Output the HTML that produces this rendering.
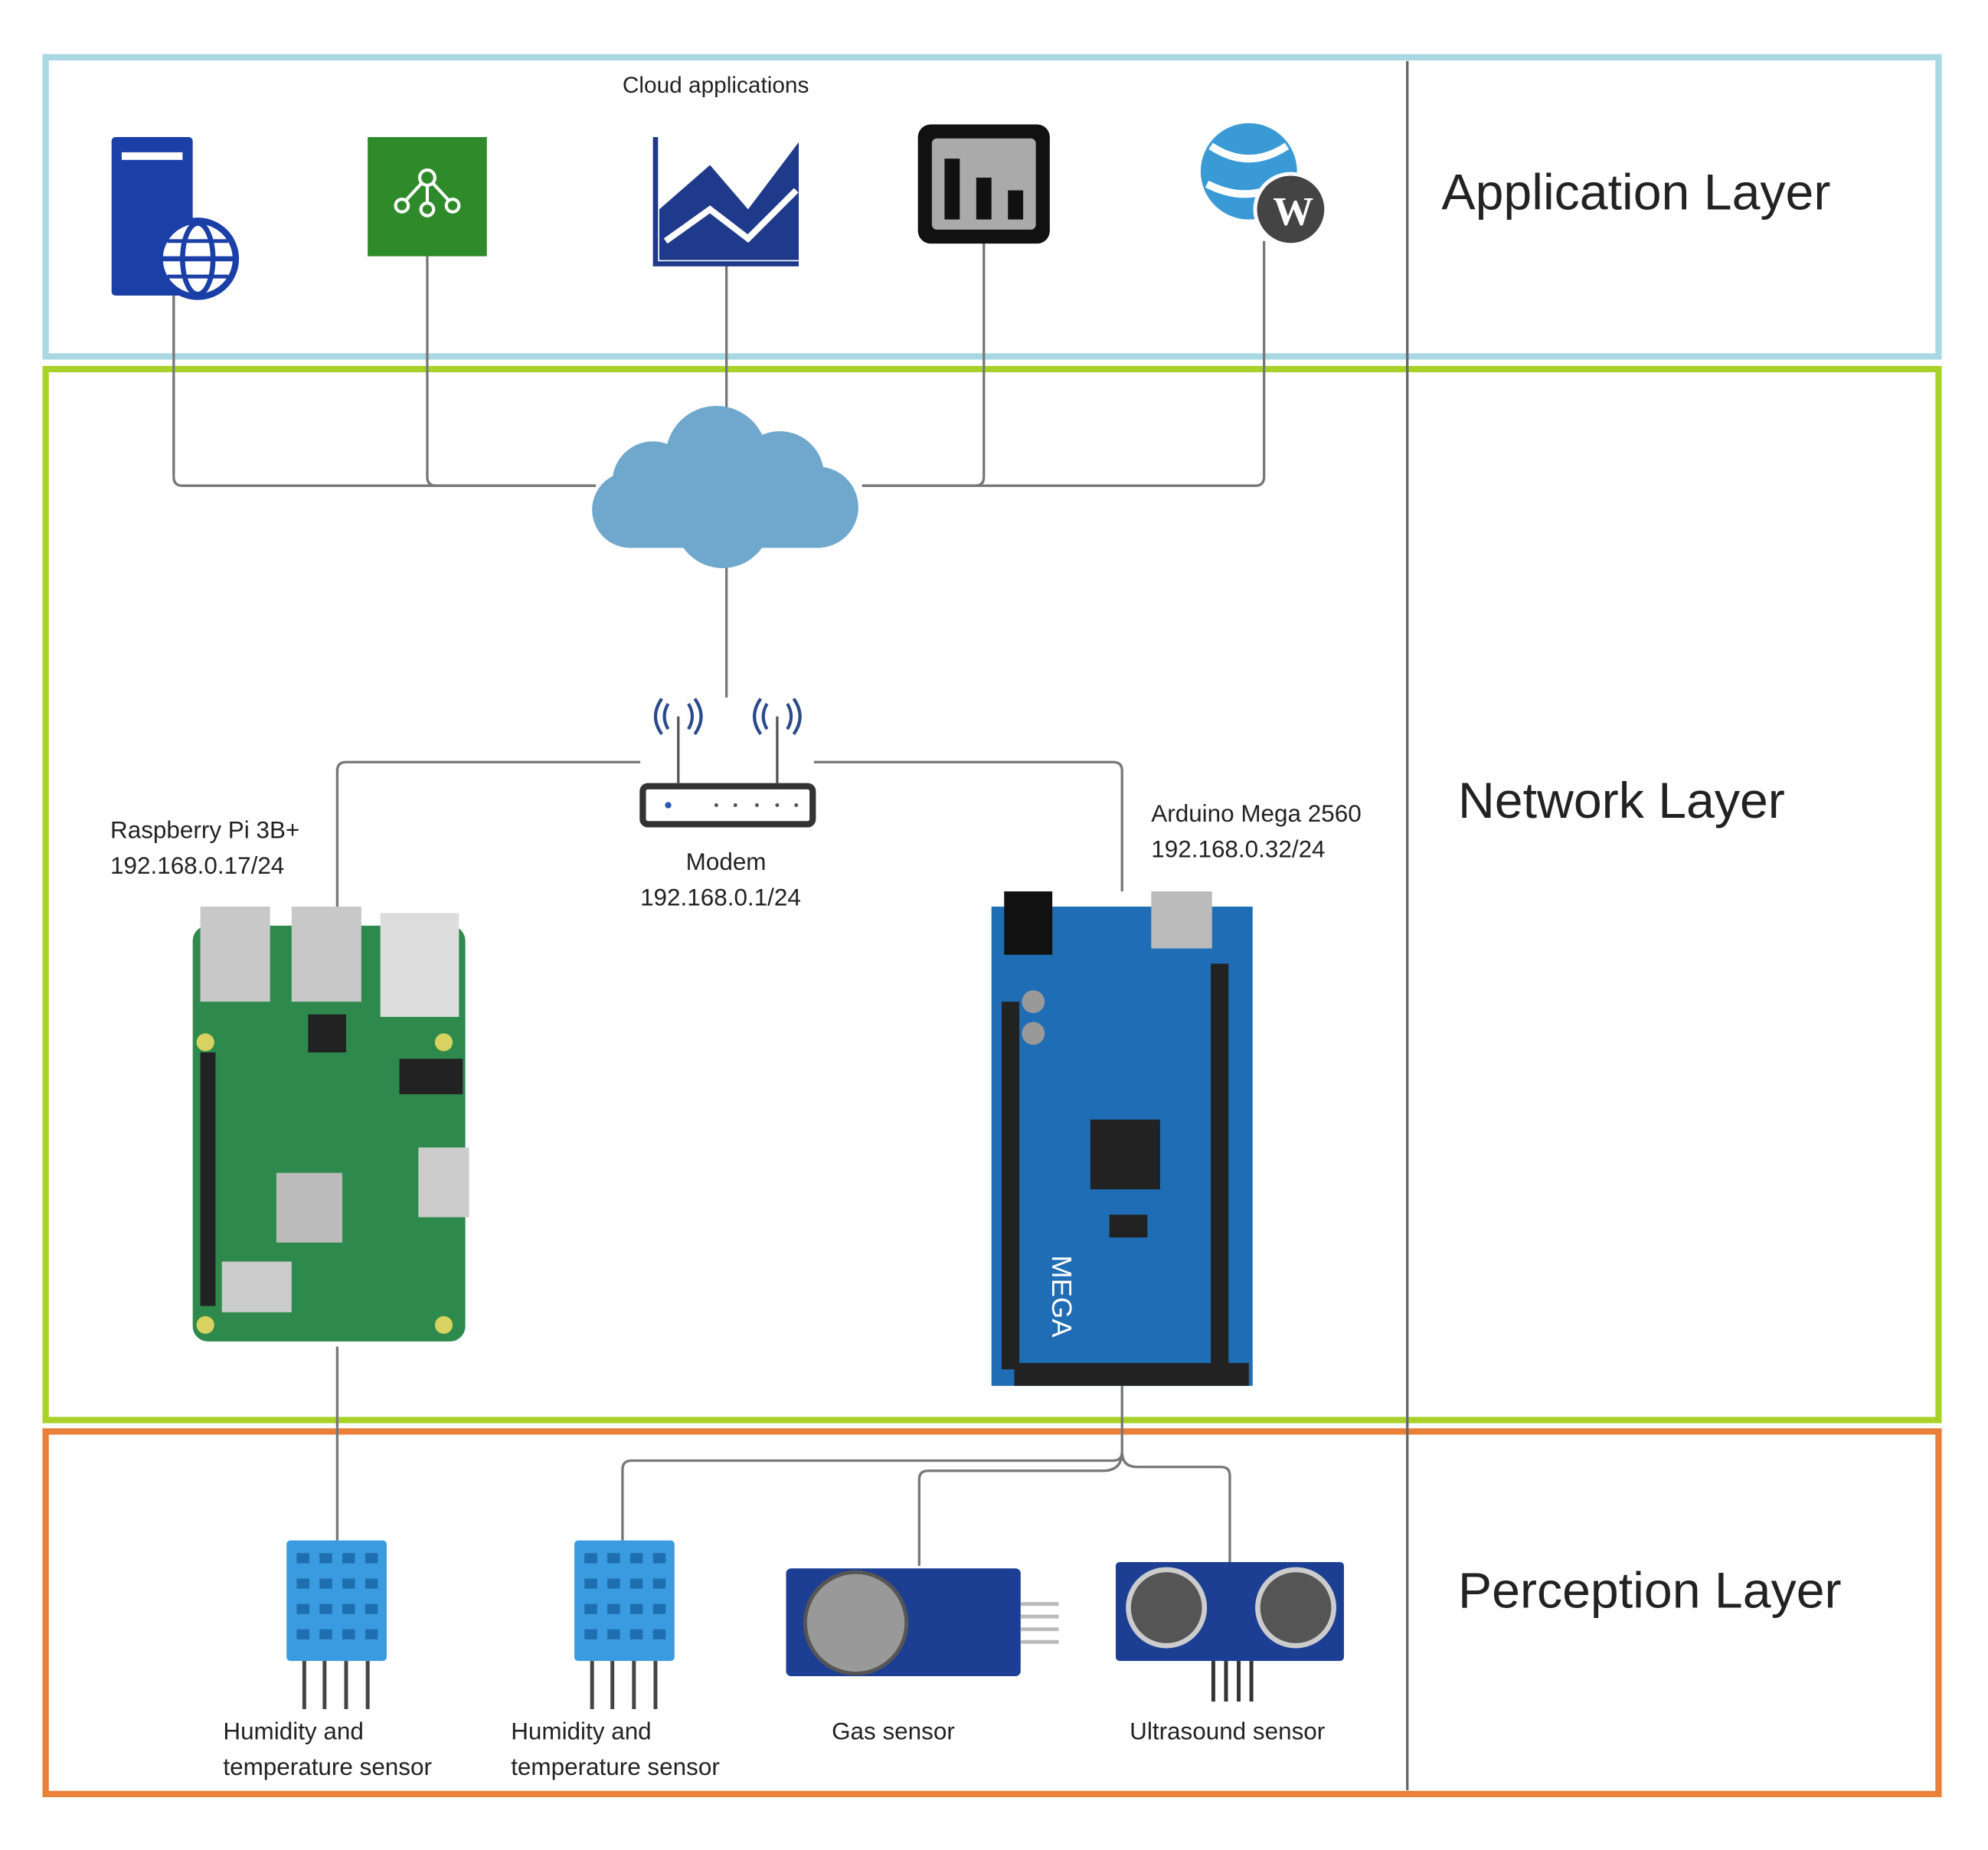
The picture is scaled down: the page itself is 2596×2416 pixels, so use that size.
<!DOCTYPE html>
<html><head><meta charset="utf-8"><style>
html,body{margin:0;padding:0;background:#fff}
svg{display:block}
text{font-family:"Liberation Sans",sans-serif;fill:#222}
</style></head><body>
<svg width="2596" height="2416" viewBox="0 0 1568 1459" xmlns="http://www.w3.org/2000/svg">
<rect width="1568" height="1459" fill="#fff"/>
<!-- layer boxes -->
<rect x="36" y="45" width="1493" height="236" fill="none" stroke="#a8d8e2" stroke-width="5"/>
<rect x="36" y="291" width="1493" height="829" fill="none" stroke="#a8d22a" stroke-width="5"/>
<rect x="36" y="1129" width="1493" height="286" fill="none" stroke="#e8803a" stroke-width="5"/>
<line x1="1110" y1="48" x2="1110" y2="1412" stroke="#666" stroke-width="2"/>
<text x="1137" y="165" font-size="40">Application Layer</text>
<text x="1150" y="645" font-size="40">Network Layer</text>
<text x="1150" y="1268" font-size="40">Perception Layer</text>
<text x="491" y="73" font-size="18">Cloud applications</text>

<!-- connectors -->
<g fill="none" stroke="#777" stroke-width="2">
<path d="M137 230 V376 q0 7 7 7 H470"/>
<path d="M337 200 V376 q0 7 7 7 H470"/>
<path d="M573 208 V322"/>
<path d="M776 190 V376 q0 7 -7 7 H680"/>
<path d="M997 190 V376 q0 7 -7 7 H680"/>
<path d="M573 447 V550"/>
<path d="M505 601 H273 q-7 0 -7 7 V715"/>
<path d="M642 601 H878 q7 0 7 7 V703"/>
<path d="M266 1062 V1215"/>
<path d="M885 1093 V1145 q0 7 -7 7 H498 q-7 0 -7 7 V1215"/>
<path d="M885 1145 q0 15 -15 15 H732 q-7 0 -7 7 V1235"/>
<path d="M885 1145 q0 12 12 12 H963 q7 0 7 7 V1232"/>
</g>

<!-- icons -->
<rect x="88" y="108" width="64" height="125" rx="3" fill="#1a3fa6"/>
<rect x="96" y="120" width="48" height="6" fill="#fff"/>
<circle cx="156" cy="204" r="30" fill="#fff" stroke="#1a3fa6" stroke-width="5"/>
<ellipse cx="156" cy="204" rx="12" ry="28" fill="none" stroke="#1a3fa6" stroke-width="4"/>
<line x1="128" y1="204" x2="184" y2="204" stroke="#1a3fa6" stroke-width="4"/>
<line x1="132" y1="190" x2="180" y2="190" stroke="#1a3fa6" stroke-width="3"/>
<line x1="132" y1="218" x2="180" y2="218" stroke="#1a3fa6" stroke-width="3"/>
<rect x="290" y="108" width="94" height="94" fill="#2f8a2a"/>
<g fill="none" stroke="#fff" stroke-width="2.5"><circle cx="337" cy="140" r="6"/><circle cx="317" cy="162" r="5"/><circle cx="337" cy="165" r="5"/><circle cx="357" cy="162" r="5"/><path d="M337 146 V160 M332 145 L320 158 M342 145 L354 158"/></g>
<path d="M517 108 V208 H630" fill="none" stroke="#1f3a8a" stroke-width="4"/>
<path d="M520 165 L560 130 L590 165 L630 112 V205 H520 Z" fill="#1f3a8a"/>
<path d="M525 190 L560 165 L590 188 L628 150" fill="none" stroke="#fff" stroke-width="5"/>
<rect x="724" y="98" width="104" height="94" rx="10" fill="#111"/>
<rect x="735" y="109" width="82" height="72" rx="4" fill="#aaa"/>
<rect x="745" y="125" width="12" height="48" fill="#111"/><rect x="770" y="140" width="12" height="33" fill="#111"/><rect x="795" y="150" width="12" height="23" fill="#111"/>
<circle cx="985" cy="135" r="38" fill="#3a9ad6"/>
<path d="M955 115 q30 20 60 0 M952 145 q35 18 65 -5" fill="none" stroke="#fff" stroke-width="6"/>
<circle cx="1018" cy="165" r="28" fill="#444" stroke="#fff" stroke-width="3"/>
<text x="1004" y="177" font-size="32" font-family="Liberation Serif" style="fill:#fff;font-weight:bold;font-family:'Liberation Serif',serif">W</text>

<!-- cloud -->
<g fill="#6fa8cc">
<circle cx="565" cy="360" r="40"/><circle cx="615" cy="375" r="35"/><circle cx="515" cy="380" r="32"/>
<circle cx="645" cy="400" r="32"/><circle cx="497" cy="402" r="30"/><circle cx="570" cy="410" r="38"/>
<rect x="497" y="390" width="150" height="42"/>
</g>

<!-- modem -->
<rect x="507" y="620" width="134" height="30" rx="4" fill="#fff" stroke="#333" stroke-width="5"/>
<circle cx="527" cy="635" r="2.5" fill="#2a5ab0"/>
<g fill="#555"><circle cx="565" cy="635" r="1.5"/><circle cx="580" cy="635" r="1.5"/><circle cx="597" cy="635" r="1.5"/><circle cx="613" cy="635" r="1.5"/><circle cx="628" cy="635" r="1.5"/></g>
<line x1="535" y1="565" x2="535" y2="618" stroke="#555" stroke-width="2"/>
<line x1="613" y1="565" x2="613" y2="618" stroke="#555" stroke-width="2"/>
<g fill="none" stroke="#2a4a8a" stroke-width="2.5">
<path d="M527 555 q-6 10 0 20 M522 551 q-10 14 0 28 M543 555 q6 10 0 20 M548 551 q10 14 0 28"/>
<path d="M605 555 q-6 10 0 20 M600 551 q-10 14 0 28 M621 555 q6 10 0 20 M626 551 q10 14 0 28"/>
</g>

<g font-size="19">
<text x="87" y="661">Raspberry Pi 3B+</text><text x="87" y="689">192.168.0.17/24</text>
<text x="541" y="686">Modem</text><text x="505" y="714">192.168.0.1/24</text>
<text x="908" y="648">Arduino Mega 2560</text><text x="908" y="676">192.168.0.32/24</text>
</g>

<!-- raspberry pi -->
<rect x="152" y="730" width="215" height="328" rx="12" fill="#2d8a4c"/>
<rect x="158" y="715" width="55" height="75" fill="#c8c8c8"/><rect x="230" y="715" width="55" height="75" fill="#c8c8c8"/>
<rect x="300" y="720" width="62" height="82" fill="#ddd"/>
<rect x="158" y="830" width="12" height="200" fill="#222"/>
<rect x="218" y="925" width="52" height="55" fill="#bbb"/>
<rect x="243" y="800" width="30" height="30" fill="#222"/>
<rect x="330" y="905" width="40" height="55" fill="#ccc"/>
<rect x="175" y="995" width="55" height="40" fill="#ccc"/>
<rect x="315" y="835" width="50" height="28" fill="#222"/>
<g fill="#d8d260"><circle cx="162" cy="822" r="7"/><circle cx="350" cy="822" r="7"/><circle cx="162" cy="1045" r="7"/><circle cx="350" cy="1045" r="7"/></g>

<!-- arduino -->
<rect x="782" y="715" width="206" height="378" fill="#1f6db4"/>
<rect x="792" y="703" width="38" height="50" fill="#111"/>
<rect x="908" y="703" width="48" height="45" fill="#bbb"/>
<rect x="790" y="790" width="14" height="290" fill="#222"/>
<rect x="955" y="760" width="14" height="320" fill="#222"/>
<rect x="800" y="1075" width="185" height="18" fill="#222"/>
<rect x="860" y="883" width="55" height="55" fill="#222"/>
<circle cx="815" cy="790" r="9" fill="#999"/><circle cx="815" cy="815" r="9" fill="#999"/>
<rect x="875" y="958" width="30" height="18" fill="#222"/>
<text x="830" y="1010" font-size="22" style="fill:#fff" transform="rotate(90 840 1000)">MEGA</text>

<!-- sensors -->
<g id="dht">
<rect x="226" y="1215" width="79" height="95" rx="3" fill="#3b9be0"/>
<g fill="#1e6fb0"><rect x="234" y="1225" width="10" height="8"/><rect x="252" y="1225" width="10" height="8"/><rect x="270" y="1225" width="10" height="8"/><rect x="288" y="1225" width="10" height="8"/>
<rect x="234" y="1245" width="10" height="8"/><rect x="252" y="1245" width="10" height="8"/><rect x="270" y="1245" width="10" height="8"/><rect x="288" y="1245" width="10" height="8"/>
<rect x="234" y="1265" width="10" height="8"/><rect x="252" y="1265" width="10" height="8"/><rect x="270" y="1265" width="10" height="8"/><rect x="288" y="1265" width="10" height="8"/>
<rect x="234" y="1285" width="10" height="8"/><rect x="252" y="1285" width="10" height="8"/><rect x="270" y="1285" width="10" height="8"/><rect x="288" y="1285" width="10" height="8"/></g>
<g stroke="#444" stroke-width="3"><line x1="240" y1="1310" x2="240" y2="1348"/><line x1="256" y1="1310" x2="256" y2="1348"/><line x1="273" y1="1310" x2="273" y2="1348"/><line x1="290" y1="1310" x2="290" y2="1348"/></g>
</g>
<use href="#dht" x="227"/>
<rect x="620" y="1237" width="185" height="85" rx="4" fill="#1c3f94"/>
<circle cx="675" cy="1280" r="40" fill="#999" stroke="#555" stroke-width="3"/>
<g stroke="#bbb" stroke-width="3"><line x1="805" y1="1265" x2="835" y2="1265"/><line x1="805" y1="1275" x2="835" y2="1275"/><line x1="805" y1="1285" x2="835" y2="1285"/><line x1="805" y1="1295" x2="835" y2="1295"/></g>
<rect x="880" y="1232" width="180" height="78" rx="3" fill="#1c3f94"/>
<circle cx="920" cy="1268" r="30" fill="#555" stroke="#ccc" stroke-width="4"/>
<circle cx="1022" cy="1268" r="30" fill="#555" stroke="#ccc" stroke-width="4"/>
<g stroke="#333" stroke-width="3"><line x1="957" y1="1310" x2="957" y2="1342"/><line x1="967" y1="1310" x2="967" y2="1342"/><line x1="977" y1="1310" x2="977" y2="1342"/><line x1="987" y1="1310" x2="987" y2="1342"/></g>

<g font-size="19">
<text x="176" y="1372">Humidity and</text><text x="176" y="1400">temperature sensor</text>
<text x="403" y="1372">Humidity and</text><text x="403" y="1400">temperature sensor</text>
<text x="656" y="1372">Gas sensor</text>
<text x="891" y="1372">Ultrasound sensor</text>
</g>
</svg>
</body></html>
